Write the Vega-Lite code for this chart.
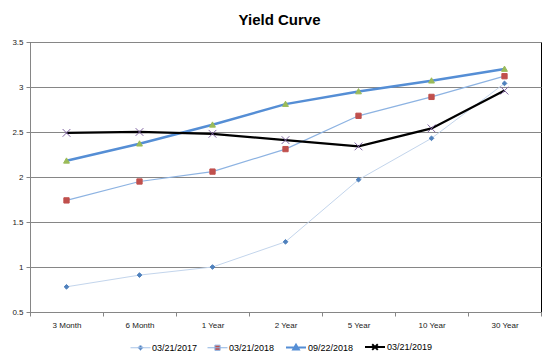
{
  "$schema": "https://vega.github.io/schema/vega-lite/v6.json",
  "width": 511,
  "height": 270,
  "autosize": "none",
  "padding": {"left": 30, "top": 42, "right": 17, "bottom": 51},
  "background": "white",
  "title": {"text": "Yield Curve", "font": "Liberation Sans", "fontSize": 15, "fontWeight": "bold", "color": "#000000", "anchor": "middle", "frame": "group", "offset": 10, "dx": -6},
  "config": {
    "view": {"stroke": "#000000", "strokeWidth": 1},
    "axis": {"labelFont": "Liberation Sans", "labelFontSize": 8, "labelColor": "#222222", "domainColor": "#868686", "tickColor": "#868686", "gridColor": "#868686", "gridOpacity": 1, "title": null},
    "legend": {"padding": 0, "symbolSize": 400, "labelFont": "Liberation Sans", "labelFontSize": 9, "labelColor": "#000000", "labelOffset": 1, "columnPadding": 7, "symbolOpacity": 1}
  },
  "data": {"values": [
    {"tenor": "3 Month", "series": "03/21/2017", "yield": 0.78},
    {"tenor": "6 Month", "series": "03/21/2017", "yield": 0.91},
    {"tenor": "1 Year", "series": "03/21/2017", "yield": 1.0},
    {"tenor": "2 Year", "series": "03/21/2017", "yield": 1.28},
    {"tenor": "5 Year", "series": "03/21/2017", "yield": 1.97},
    {"tenor": "10 Year", "series": "03/21/2017", "yield": 2.43},
    {"tenor": "30 Year", "series": "03/21/2017", "yield": 3.04},
    {"tenor": "3 Month", "series": "03/21/2018", "yield": 1.74},
    {"tenor": "6 Month", "series": "03/21/2018", "yield": 1.95},
    {"tenor": "1 Year", "series": "03/21/2018", "yield": 2.06},
    {"tenor": "2 Year", "series": "03/21/2018", "yield": 2.31},
    {"tenor": "5 Year", "series": "03/21/2018", "yield": 2.68},
    {"tenor": "10 Year", "series": "03/21/2018", "yield": 2.89},
    {"tenor": "30 Year", "series": "03/21/2018", "yield": 3.12},
    {"tenor": "3 Month", "series": "09/22/2018", "yield": 2.18},
    {"tenor": "6 Month", "series": "09/22/2018", "yield": 2.37},
    {"tenor": "1 Year", "series": "09/22/2018", "yield": 2.58},
    {"tenor": "2 Year", "series": "09/22/2018", "yield": 2.81},
    {"tenor": "5 Year", "series": "09/22/2018", "yield": 2.95},
    {"tenor": "10 Year", "series": "09/22/2018", "yield": 3.07},
    {"tenor": "30 Year", "series": "09/22/2018", "yield": 3.2},
    {"tenor": "3 Month", "series": "03/21/2019", "yield": 2.49},
    {"tenor": "6 Month", "series": "03/21/2019", "yield": 2.5},
    {"tenor": "1 Year", "series": "03/21/2019", "yield": 2.48},
    {"tenor": "2 Year", "series": "03/21/2019", "yield": 2.41},
    {"tenor": "5 Year", "series": "03/21/2019", "yield": 2.34},
    {"tenor": "10 Year", "series": "03/21/2019", "yield": 2.54},
    {"tenor": "30 Year", "series": "03/21/2019", "yield": 2.96}
  ]},
  "encoding": {
    "x": {"field": "tenor", "type": "nominal", "sort": ["3 Month", "6 Month", "1 Year", "2 Year", "5 Year", "10 Year", "30 Year"],
      "scale": {"type": "band", "paddingInner": 0, "paddingOuter": 0},
      "axis": {"labelAngle": 0, "tickBand": "extent", "tickSize": 4, "labelPadding": 5, "grid": false}},
    "y": {"field": "yield", "type": "quantitative",
      "scale": {"domain": [0.5, 3.5], "nice": false, "zero": false},
      "axis": {"values": [0.5, 1, 1.5, 2, 2.5, 3, 3.5], "format": "~g", "tickSize": 4, "labelPadding": 3, "grid": true}}
  },
  "layer": [
    {
      "mark": {"type": "line"},
      "encoding": {
        "color": {"field": "series", "type": "nominal",
          "scale": {"domain": ["03/21/2017", "03/21/2018", "09/22/2018", "03/21/2019"], "range": ["#c3d5ec", "#8db3e2", "#558ed5", "#000000"]}, "legend": null},
        "strokeWidth": {"field": "series", "type": "nominal",
          "scale": {"type": "ordinal", "domain": ["03/21/2017", "03/21/2018", "09/22/2018", "03/21/2019"], "range": [1, 1.25, 2.5, 2.25]}, "legend": null}
      }
    },
    {
      "mark": {"type": "point", "filled": true, "opacity": 1, "strokeWidth": 1},
      "encoding": {
        "shape": {"field": "series", "type": "nominal",
          "scale": {"domain": ["03/21/2017", "03/21/2018", "09/22/2018", "03/21/2019"], "range": ["M0,-1L1,0L0,1L-1,0Z", "M-1,-1H1V1H-1Z", "M0,-1L1,0.8H-1Z", "M-1,-1L1,1M-1,1L1,-1"]}, "legend": null},
        "fill": {"field": "series", "type": "nominal",
          "scale": {"domain": ["03/21/2017", "03/21/2018", "09/22/2018", "03/21/2019"], "range": ["#4f81bd", "#c0504d", "#9bbb59", "#8064a2"]}, "legend": null},
        "stroke": {"field": "series", "type": "nominal",
          "scale": {"domain": ["03/21/2017", "03/21/2018", "09/22/2018", "03/21/2019"], "range": ["#4f81bd", "#c0504d", "#9bbb59", "#8064a2"]}, "legend": null},
        "size": {"field": "series", "type": "nominal",
          "scale": {"type": "ordinal", "domain": ["03/21/2017", "03/21/2018", "09/22/2018", "03/21/2019"], "range": [22, 28, 34, 60]}, "legend": null}
      }
    },
    {
      "transform": [{"filter": "false"}],
      "mark": {"type": "point", "filled": true, "opacity": 1},
      "encoding": {
        "shape": {"field": "series", "type": "nominal",
          "scale": {"domain": ["03/21/2017", "03/21/2018", "09/22/2018", "03/21/2019"], "range": ["M-1,0L1,0M0,-0.27L0.27,0L0,0.27L-0.27,0Z", "M-1,0L1,0M-0.26,-0.26L0.26,-0.26L0.26,0.26L-0.26,0.26Z", "M-1,0L1,0M0,-0.28L0.28,0.2L-0.28,0.2Z", "M-1,0L1,0M-0.28,-0.28L0.28,0.28M-0.28,0.28L0.28,-0.28"]},
          "legend": {"title": null, "orient": "none", "legendX": 100, "legendY": 294, "direction": "horizontal"}},
        "fill": {"field": "series", "type": "nominal",
          "scale": {"domain": ["03/21/2017", "03/21/2018", "09/22/2018", "03/21/2019"], "range": ["#4f81bd", "#c0504d", "#9bbb59", "#8064a2"]},
          "legend": {"title": null, "orient": "none", "legendX": 100, "legendY": 294, "direction": "horizontal"}},
        "stroke": {"field": "series", "type": "nominal",
          "scale": {"domain": ["03/21/2017", "03/21/2018", "09/22/2018", "03/21/2019"], "range": ["#a9c4e8", "#8db3e2", "#558ed5", "#000000"]},
          "legend": {"title": null, "orient": "none", "legendX": 100, "legendY": 294, "direction": "horizontal"}},
        "strokeWidth": {"field": "series", "type": "nominal",
          "scale": {"type": "ordinal", "domain": ["03/21/2017", "03/21/2018", "09/22/2018", "03/21/2019"], "range": [1, 1, 2, 2]},
          "legend": {"title": null, "orient": "none", "legendX": 100, "legendY": 294, "direction": "horizontal"}}
      }
    }
  ],
  "resolve": {"scale": {"shape": "independent", "fill": "independent", "stroke": "independent", "strokeWidth": "independent", "size": "independent", "color": "independent"}, "legend": {"shape": "independent", "fill": "independent", "stroke": "independent", "strokeWidth": "independent"}}
}
